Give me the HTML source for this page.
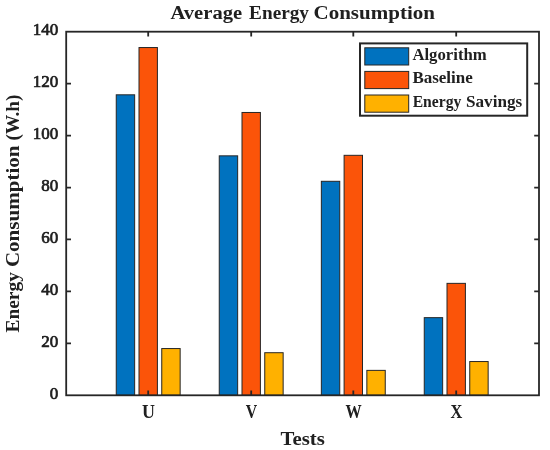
<!DOCTYPE html><html><head><meta charset="utf-8"><title>Average Energy Consumption</title>
<style>html,body{margin:0;padding:0;background:#fff}svg{display:block}text{font-family:"Liberation Serif",serif;font-weight:bold;fill:#202020}.tk{font-weight:normal;stroke:#202020;stroke-width:0.7;stroke-linejoin:round}</style></head><body>
<svg width="550" height="450" viewBox="0 0 550 450">
<rect width="550" height="450" fill="#fff"/>
<rect x="116.25" y="94.81" width="18.40" height="300.49" fill="#0072BF" stroke="#262626" stroke-width="1"/>
<rect x="139.00" y="47.54" width="18.40" height="347.76" fill="#FB5409" stroke="#262626" stroke-width="1"/>
<rect x="161.75" y="348.55" width="18.40" height="46.75" fill="#FFB100" stroke="#262626" stroke-width="1"/>
<rect x="219.25" y="155.84" width="18.40" height="239.46" fill="#0072BF" stroke="#262626" stroke-width="1"/>
<rect x="242.00" y="112.47" width="18.40" height="282.83" fill="#FB5409" stroke="#262626" stroke-width="1"/>
<rect x="264.75" y="352.71" width="18.40" height="42.59" fill="#FFB100" stroke="#262626" stroke-width="1"/>
<rect x="321.35" y="181.30" width="18.40" height="214.00" fill="#0072BF" stroke="#262626" stroke-width="1"/>
<rect x="344.10" y="155.32" width="18.40" height="239.98" fill="#FB5409" stroke="#262626" stroke-width="1"/>
<rect x="366.85" y="370.37" width="18.40" height="24.93" fill="#FFB100" stroke="#262626" stroke-width="1"/>
<rect x="424.25" y="317.65" width="18.40" height="77.65" fill="#0072BF" stroke="#262626" stroke-width="1"/>
<rect x="447.00" y="283.36" width="18.40" height="111.94" fill="#FB5409" stroke="#262626" stroke-width="1"/>
<rect x="469.75" y="361.54" width="18.40" height="33.76" fill="#FFB100" stroke="#262626" stroke-width="1"/>
<rect x="66.2" y="31.7" width="472.8" height="363.6" fill="none" stroke="#262626" stroke-width="1.8"/>
<text class="tk" transform="translate(58.2 398.50) scale(1.02 1)" font-size="16.7" text-anchor="end">0</text>
<path d="M66.2 343.36h4.8M539.0 343.36h-4.8" stroke="#262626" stroke-width="1.8" fill="none"/>
<text class="tk" transform="translate(58.2 346.56) scale(1.02 1)" font-size="16.7" text-anchor="end">20</text>
<path d="M66.2 291.41h4.8M539.0 291.41h-4.8" stroke="#262626" stroke-width="1.8" fill="none"/>
<text class="tk" transform="translate(58.2 294.61) scale(1.02 1)" font-size="16.7" text-anchor="end">40</text>
<path d="M66.2 239.47h4.8M539.0 239.47h-4.8" stroke="#262626" stroke-width="1.8" fill="none"/>
<text class="tk" transform="translate(58.2 242.67) scale(1.02 1)" font-size="16.7" text-anchor="end">60</text>
<path d="M66.2 187.53h4.8M539.0 187.53h-4.8" stroke="#262626" stroke-width="1.8" fill="none"/>
<text class="tk" transform="translate(58.2 190.73) scale(1.02 1)" font-size="16.7" text-anchor="end">80</text>
<path d="M66.2 135.59h4.8M539.0 135.59h-4.8" stroke="#262626" stroke-width="1.8" fill="none"/>
<text class="tk" transform="translate(58.2 138.79) scale(1.02 1)" font-size="16.7" text-anchor="end">100</text>
<path d="M66.2 83.64h4.8M539.0 83.64h-4.8" stroke="#262626" stroke-width="1.8" fill="none"/>
<text class="tk" transform="translate(58.2 86.84) scale(1.02 1)" font-size="16.7" text-anchor="end">120</text>
<text class="tk" transform="translate(58.2 34.60) scale(1.02 1)" font-size="16.7" text-anchor="end">140</text>
<path d="M148.2 395.3v-4.8M148.2 31.7v4.8" stroke="#262626" stroke-width="1.8" fill="none"/>
<text transform="translate(148.5 417.8) scale(1.02 1.08)" font-size="17.6" text-anchor="middle">U</text>
<path d="M251.2 395.3v-4.8M251.2 31.7v4.8" stroke="#262626" stroke-width="1.8" fill="none"/>
<text transform="translate(251.5 417.8) scale(0.9 1.08)" font-size="17.6" text-anchor="middle">V</text>
<path d="M353.3 395.3v-4.8M353.3 31.7v4.8" stroke="#262626" stroke-width="1.8" fill="none"/>
<text transform="translate(353.6 417.8) scale(0.92 1.08)" font-size="17.6" text-anchor="middle">W</text>
<path d="M456.2 395.3v-4.8M456.2 31.7v4.8" stroke="#262626" stroke-width="1.8" fill="none"/>
<text transform="translate(456.5 417.8) scale(0.93 1.08)" font-size="17.6" text-anchor="middle">X</text>
<text font-size="18.6" y="19.2"><tspan x="170.50" textLength="71.60" lengthAdjust="spacingAndGlyphs">Average</tspan> <tspan x="249.10" textLength="59.90" lengthAdjust="spacingAndGlyphs">Energy</tspan> <tspan x="313.50" textLength="121.40" lengthAdjust="spacingAndGlyphs">Consumption</tspan></text>
<text x="302.7" y="445.2" font-size="18.6" text-anchor="middle" textLength="44.4" lengthAdjust="spacingAndGlyphs">Tests</text>
<text font-size="18.3" transform="translate(18.7 332.5) rotate(-90)"><tspan x="0.00" textLength="60.40" lengthAdjust="spacingAndGlyphs">Energy</tspan> <tspan x="65.40" textLength="121.60" lengthAdjust="spacingAndGlyphs">Consumption</tspan> <tspan x="192.00" textLength="45.80" lengthAdjust="spacingAndGlyphs">(W.h)</tspan></text>
<rect x="360" y="43.4" width="167.2" height="72.3" fill="#fff" stroke="#262626" stroke-width="2"/>
<rect x="364.8" y="47.8" width="43.9" height="17.2" fill="#0072BF" stroke="#262626" stroke-width="1"/>
<text x="412.4" y="59.9" font-size="16" textLength="74.3" lengthAdjust="spacingAndGlyphs">Algorithm</text>
<rect x="364.8" y="71.4" width="43.9" height="17.2" fill="#FB5409" stroke="#262626" stroke-width="1"/>
<text x="412.4" y="82.9" font-size="16" textLength="60.4" lengthAdjust="spacingAndGlyphs">Baseline</text>
<rect x="364.8" y="95.0" width="43.9" height="17.2" fill="#FFB100" stroke="#262626" stroke-width="1"/>
<text font-size="16" y="106.6"><tspan x="412.70" textLength="48.60" lengthAdjust="spacingAndGlyphs">Energy</tspan> <tspan x="466.00" textLength="56.20" lengthAdjust="spacingAndGlyphs">Savings</tspan></text>
</svg></body></html>
